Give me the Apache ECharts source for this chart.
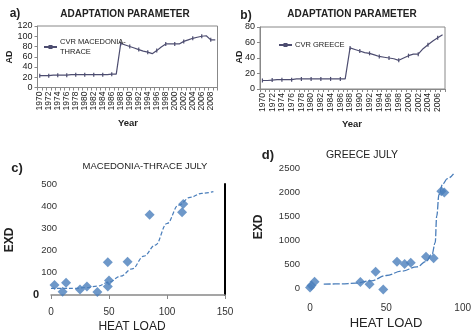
<!DOCTYPE html>
<html><head><meta charset="utf-8">
<script src="https://cdn.jsdelivr.net/npm/echarts@6/dist/echarts.min.js"></script>
<style>html,body{margin:0;padding:0;background:#fff}#c{width:474px;height:333px}</style>
</head><body><div id="c"></div>
<script>
// ---- data ----
const yearsA = ['1970','1971','1972','1973','1974','1975','1976','1977','1978','1979','1980','1981','1982','1983','1984','1985','1986','1987','1988','1989','1990','1991','1992','1993','1994','1995','1996','1997','1998','1999','2000','2001','2002','2003','2004','2005','2006','2007','2008','2009'];
const adA = [23,23,23,24,24,24,24,25,25,25,25,25,25,25,25,25,26,26,86,83,80,77,74,71,69,66,72,79,85,85,85,85,90,93,96,98,100,101,93,93];
const yearsB = ['1970','1971','1972','1973','1974','1975','1976','1977','1978','1979','1980','1981','1982','1983','1984','1985','1986','1987','1988','1989','1990','1991','1992','1993','1994','1995','1996','1997','1998','1999','2000','2001','2002','2003','2004','2005','2006','2007'];
const adB = [11,11,11.5,12,12,12,12,13,13,13,13,13,13,13,13,13,13,13,53,51,49,47,46,44,42,41,40,39,37,40,43,45,45,52,57,62,66,70];
const cX = [3,10,13,25,31,40,49,50,49,66,85,114,113];
const cY = [45,15,55,25,38,13,147,65,38,150,362,410,373];
const trendCX = [0,10,20,30,40,50,60,70,80,90,100,110,120,130,140];
const trendCY = [30,30,30,33,40,58,85,118,175,225,322,405,440,458,466];
const dX = [0,1,3,33,39,43,48,57,62,66,76,81,86,88];
const dY = [20,60,140,135,90,350,-20,557,509,536,661,628,2020,1990];
const trendDX = [9,20,30,40,50,60,70,76,80,82,83,84.5,87,90,94];
const trendDY = [90,95,110,160,270,360,450,560,720,950,1500,1950,2170,2280,2380];
const nameA = 'CVR MACEDONIA-THRACE';
const nameB = 'CVR GREECE';

const F = 'Liberation Sans, Arial, sans-serif';
const lineCol = '#4d4d70';
const blue = '#4a7ebb';
const pair = (xs, ys) => xs.map((x, i) => [x, ys[i]]);
const plain = v => String(v);

function txt(x, y, text, size, bold, rot, color) {
  return { type: 'text', x: x, y: y, rotation: rot || 0, z: 10,
    style: { text: text, font: (bold ? 'bold ' : '') + size + 'px ' + F, fill: color || '#222',
      textAlign: 'center', textVerticalAlign: 'middle' } };
}

const chart = echarts.init(document.getElementById('c'), null, { renderer: 'canvas' });

const catX = (gi, data) => ({
  type: 'category', gridIndex: gi, data: data, boundaryGap: true,
  axisLine: { lineStyle: { color: '#888', width: 1 } },
  axisTick: { show: true, interval: 0, length: 3, lineStyle: { color: '#888' } },
  axisLabel: { interval: 1, rotate: 90, fontSize: 8.5, margin: 4, color: '#222', fontFamily: F }
});
const valY = (gi, max, step) => ({
  type: 'value', gridIndex: gi, min: 0, max: max, interval: step,
  axisLine: { show: true, lineStyle: { color: '#888' } },
  axisTick: { show: true, length: 3, lineStyle: { color: '#888' } },
  splitLine: { show: false },
  axisLabel: { fontSize: 9, margin: 5, color: '#222', fontFamily: F, formatter: plain }
});

chart.setOption({
  animation: false,
  grid: [
    { left: 37.5, top: 26, width: 180, height: 61.5, show: true, borderColor: '#888', borderWidth: 1 },
    { left: 260, top: 27, width: 185, height: 62, show: true, borderColor: '#888', borderWidth: 1 },
    { left: 51, top: 184, width: 174, height: 111 },
    { left: 310, top: 168, width: 157, height: 120.5 }
  ],
  legend: [
    { data: [nameA], left: 43, top: 37, padding: 0, itemWidth: 13, itemHeight: 5, itemGap: 3,
      formatter: () => 'CVR MACEDONIA-\nTHRACE',
      textStyle: { fontSize: 7.5, color: '#222', fontFamily: F, lineHeight: 10, padding: [0, 0, 0, -2] } },
    { data: [nameB], left: 278, top: 41, padding: 0, itemWidth: 13, itemHeight: 5,
      textStyle: { fontSize: 7.5, color: '#222', fontFamily: F, padding: [0, 0, 0, -2] } }
  ],
  xAxis: [
    catX(0, yearsA),
    catX(1, yearsB),
    { type: 'value', gridIndex: 2, min: 0, max: 150, interval: 50,
      axisLine: { lineStyle: { color: '#888', width: 1.5 } },
      axisTick: { show: true, length: 4, lineStyle: { color: '#888' } },
      splitLine: { show: false },
      axisLabel: { fontSize: 10, margin: 12, color: '#333', fontFamily: F, formatter: plain } },
    { type: 'value', gridIndex: 3, min: 0, max: 100, interval: 50,
      axisLine: { show: false }, axisTick: { show: false }, splitLine: { show: false },
      axisLabel: { fontSize: 10, margin: 15, color: '#333', fontFamily: F, formatter: plain } }
  ],
  yAxis: [
    valY(0, 120, 20),
    valY(1, 80, 20),
    { type: 'value', gridIndex: 2, min: 0, max: 500, interval: 100,
      axisLine: { show: false }, axisTick: { show: false }, splitLine: { show: false },
      axisLabel: { fontSize: 9.5, margin: -6, color: '#333', fontFamily: F,
        formatter: v => v === 0 ? '{z|0}' : String(v),
        rich: { z: { fontSize: 11, fontWeight: 'bold', color: '#222', padding: [0, 18, 0, 0] } } } },
    { type: 'value', gridIndex: 2, position: 'right', min: 0, max: 500, interval: 100,
      axisLine: { show: true, lineStyle: { color: '#000', width: 2 } },
      axisTick: { show: false }, axisLabel: { show: false }, splitLine: { show: false } },
    { type: 'value', gridIndex: 3, min: 0, max: 2500, interval: 500,
      axisLine: { show: false }, axisTick: { show: false }, splitLine: { show: false },
      axisLabel: { fontSize: 9.5, margin: 10, color: '#333', fontFamily: F, formatter: plain } }
  ],
  series: [
    { name: nameA, type: 'line', xAxisIndex: 0, yAxisIndex: 0, data: adA,
      color: lineCol, lineStyle: { width: 1.2, color: lineCol },
      symbol: 'rect', symbolSize: [1.2, 4], showSymbol: true,
      itemStyle: { color: lineCol } },
    { name: nameB, type: 'line', xAxisIndex: 1, yAxisIndex: 1, data: adB,
      color: lineCol, lineStyle: { width: 1.2, color: lineCol },
      symbol: 'rect', symbolSize: [1.2, 4], showSymbol: true,
      itemStyle: { color: lineCol } },
    { type: 'line', xAxisIndex: 2, yAxisIndex: 2, data: pair(trendCX, trendCY),
      smooth: 0.4, smoothMonotone: 'x', showSymbol: false, clip: false,
      lineStyle: { color: blue, width: 1.2, type: [4, 2] } },
    { type: 'scatter', xAxisIndex: 2, yAxisIndex: 2, data: pair(cX, cY), clip: false,
      symbol: 'diamond', symbolSize: 10, itemStyle: { color: blue } },
    { type: 'line', xAxisIndex: 3, yAxisIndex: 4, data: pair(trendDX, trendDY),
      smooth: 0.4, smoothMonotone: 'x', showSymbol: false, clip: false,
      lineStyle: { color: blue, width: 1.3, type: [7, 2] } },
    { type: 'scatter', xAxisIndex: 3, yAxisIndex: 4, data: pair(dX, dY), clip: false,
      symbol: 'diamond', symbolSize: 10, itemStyle: { color: blue } }
  ],
  graphic: [
    txt(15, 14, 'a)', 12, true),
    txt(125, 14, 'ADAPTATION PARAMETER', 10, true),
    txt(10, 57, 'AD', 9, true, Math.PI / 2),
    txt(128, 123, 'Year', 9.5, true),
    txt(246, 16, 'b)', 12, true),
    txt(352, 14, 'ADAPTATION PARAMETER', 10, true),
    txt(240, 57, 'AD', 9, true, Math.PI / 2),
    txt(352, 124, 'Year', 9.5, true),
    txt(17, 168, 'c)', 13, true),
    txt(145, 166, 'MACEDONIA-THRACE JULY', 9.5, false),
    txt(10, 240, 'EXD', 12, true, Math.PI / 2),
    txt(132, 327, 'HEAT LOAD', 12, false),
    txt(268, 155, 'd)', 13, true),
    txt(362, 155, 'GREECE JULY', 10.5, false),
    txt(259, 227, 'EXD', 12, true, Math.PI / 2),
    txt(386, 323, 'HEAT LOAD', 13, false)
  ]
});
</script></body></html>
